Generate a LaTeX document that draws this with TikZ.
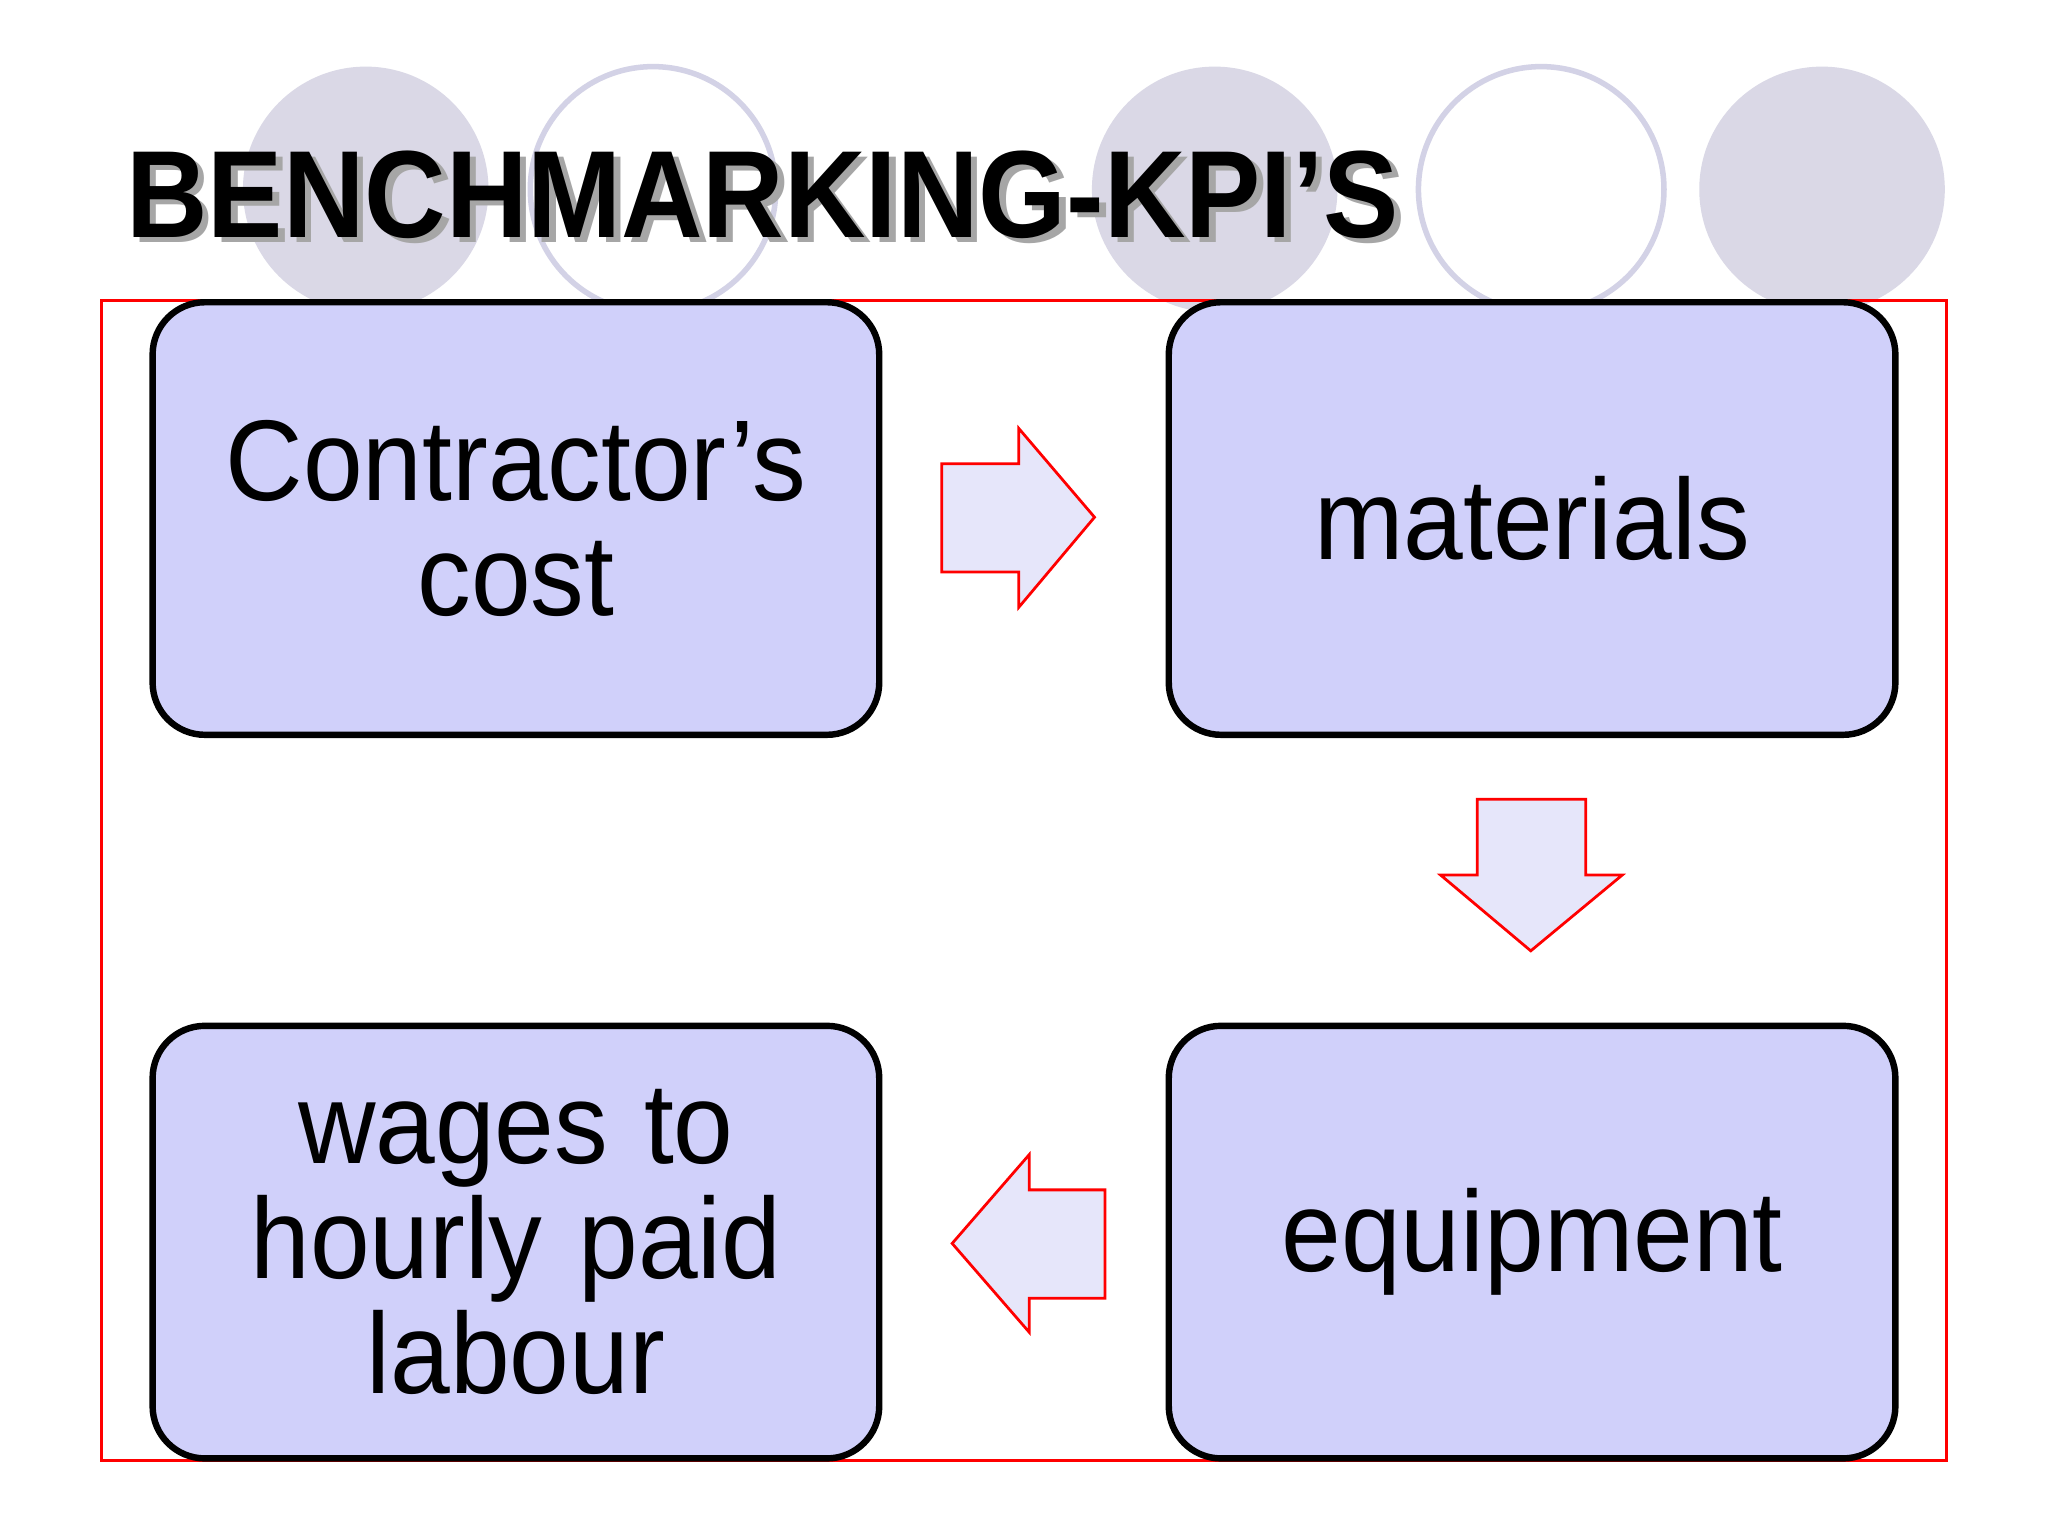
\documentclass[tikz,border=0pt]{standalone}
\usepackage{fontspec}
\usepackage{graphicx}
\setmainfont{Liberation Sans}
\definecolor{circf}{HTML}{DAD8E6}
\definecolor{circl}{HTML}{D3D2E6}
\definecolor{boxf}{HTML}{D0D0FA}
\definecolor{arrf}{HTML}{E6E6FA}
\newcommand{\nrw}[1]{\scalebox{0.935}[1]{#1}}
\begin{document}
\begin{tikzpicture}[x=0.01cm,y=-0.01cm,
  box/.style={draw=black,line width=1.4pt,fill=boxf,rounded corners=0.4cm,minimum width=5.56cm,minimum height=3.31cm,align=center,font=\fontsize{25}{25}\selectfont,text width=5cm},
  arr/.style={draw=red,fill=arrf,line width=0.6pt}]
\useasboundingbox (0,0) rectangle (1568,1176);
\fill[white] (0,0) rectangle (1568,1176);
\fill[circf] (280,145) circle (94);
\draw[circl,line width=1.2pt] (500,145) circle (94);
\fill[circf] (930,145) circle (94);
\draw[circl,line width=1.2pt] (1180,145) circle (94);
\fill[circf] (1395,145) circle (94);
\node[anchor=west,text=gray!70,font=\bfseries\fontsize{27}{30}\selectfont,inner sep=0] at (101,153) {\scalebox{0.91}[1]{BENCHMARKING-KPI’S}};
\node[anchor=west,font=\bfseries\fontsize{27}{30}\selectfont,inner sep=0] (title) at (96,149) {\scalebox{0.91}[1]{BENCHMARKING-KPI’S}};
\draw[red,line width=0.7pt] (78,230) rectangle (1490,1118);
\node[box] (cc) at (395,397) {\nrw{Contractor’s}\\\nrw{cost}};
\node[box] (mat) at (1173,397) {\nrw{materials}};
\node[box] (eq) at (1173,951) {\nrw{equipment}};
\node[box] (wg) at (395,951) {\nrw{wages to}\\\nrw{hourly paid}\\\nrw{labour}};
\draw[arr] (721,355) -- (780,355) -- (780,328) -- (838,396) -- (780,465) -- (780,438) -- (721,438) -- cycle;
\draw[arr] (1131,612) -- (1214,612) -- (1214,670) -- (1242,670) -- (1172,728) -- (1103,670) -- (1131,670) -- cycle;
\draw[arr] (846,911) -- (788,911) -- (788,884) -- (729,952) -- (788,1020) -- (788,994) -- (846,994) -- cycle;
\end{tikzpicture}
\end{document}
